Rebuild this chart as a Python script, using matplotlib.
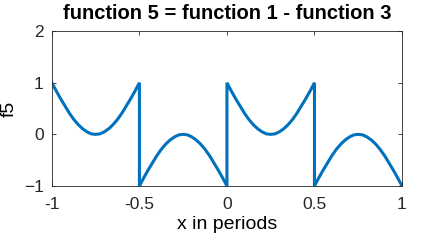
"""Square wave minus sine: f5 = f1 - f3 over two periods."""

import matplotlib

matplotlib.use("Agg")
import matplotlib.pyplot as plt

# values, one list per half period
x_seg_a = [-1.0, -0.975, -0.95, -0.925, -0.9, -0.875, -0.85, -0.825, -0.8, -0.775, -0.75,
           -0.725, -0.7, -0.675, -0.65, -0.625, -0.6, -0.575, -0.55, -0.525, -0.5]
y_seg_a = [1.0, 0.84, 0.69, 0.55, 0.41, 0.29, 0.19, 0.11, 0.05, 0.01, 0.0,
           0.01, 0.05, 0.11, 0.19, 0.29, 0.41, 0.55, 0.69, 0.84, 1.0]
x_seg_b = [-0.5, -0.475, -0.45, -0.425, -0.4, -0.375, -0.35, -0.325, -0.3, -0.275, -0.25,
           -0.225, -0.2, -0.175, -0.15, -0.125, -0.1, -0.075, -0.05, -0.025, 0.0]
y_seg_b = [-1.0, -0.84, -0.69, -0.55, -0.41, -0.29, -0.19, -0.11, -0.05, -0.01, 0.0,
           -0.01, -0.05, -0.11, -0.19, -0.29, -0.41, -0.55, -0.69, -0.84, -1.0]
x_seg_c = [0.0, 0.025, 0.05, 0.075, 0.1, 0.125, 0.15, 0.175, 0.2, 0.225, 0.25,
           0.275, 0.3, 0.325, 0.35, 0.375, 0.4, 0.425, 0.45, 0.475, 0.5]
y_seg_c = [1.0, 0.84, 0.69, 0.55, 0.41, 0.29, 0.19, 0.11, 0.05, 0.01, 0.0,
           0.01, 0.05, 0.11, 0.19, 0.29, 0.41, 0.55, 0.69, 0.84, 1.0]
x_seg_d = [0.5, 0.525, 0.55, 0.575, 0.6, 0.625, 0.65, 0.675, 0.7, 0.725, 0.75,
           0.775, 0.8, 0.825, 0.85, 0.875, 0.9, 0.925, 0.95, 0.975, 1.0]
y_seg_d = [-1.0, -0.84, -0.69, -0.55, -0.41, -0.29, -0.19, -0.11, -0.05, -0.01, 0.0,
           -0.01, -0.05, -0.11, -0.19, -0.29, -0.41, -0.55, -0.69, -0.84, -1.0]

x_ticks = [-1, -0.5, 0, 0.5, 1]
x_tick_labels = ["-1", "-0.5", "0", "0.5", "1"]
y_ticks = [-1, 0, 1, 2]

plt.rcParams["font.family"] = ["Liberation Sans", "DejaVu Sans"]

x_all = x_seg_a + x_seg_b + x_seg_c + x_seg_d
y_all = y_seg_a + y_seg_b + y_seg_c + y_seg_d

fig = plt.figure(figsize=(4.36, 2.47), dpi=100)
ax = fig.add_axes([0.119, 0.247, 0.803, 0.627])
ax.plot(x_all, y_all, color="#0072BD", linewidth=2.2, solid_joinstyle="miter")
ax.set_xlim(-1, 1)
ax.set_ylim(-1, 2)
ax.set_xticks(x_ticks)
ax.set_xticklabels(x_tick_labels)
ax.set_yticks(y_ticks)
ax.tick_params(direction="in", top=True, right=True, length=3, width=0.6,
               labelsize=12.5, colors="#262626")
ax.tick_params(axis="x", pad=8)
ax.tick_params(axis="y", pad=6)
for spine in ax.spines.values():
    spine.set_linewidth(0.6)
    spine.set_color("#262626")
ax.set_title("function 5 = function 1 - function 3", fontsize=14.5,
             fontweight="bold", pad=9)
ax.set_xlabel("x in periods", fontsize=14, labelpad=2.5)
ax.set_ylabel("f5", fontsize=14, labelpad=4)
fig.savefig("out.png", dpi=100)
